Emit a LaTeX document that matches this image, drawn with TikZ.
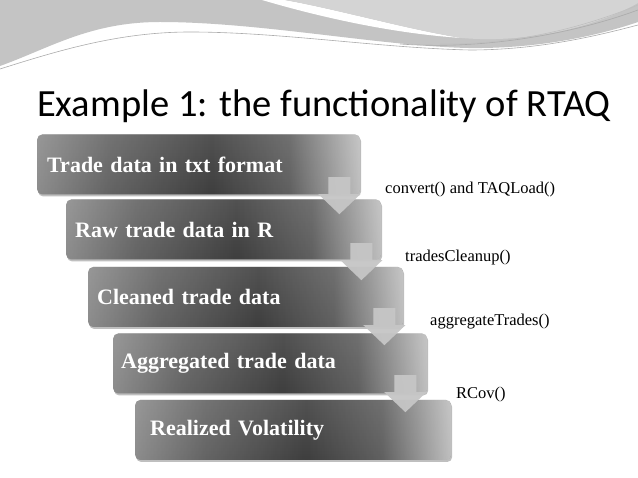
\documentclass[tikz,border=0pt]{standalone}
\usepackage{fontspec}
\setmainfont{Liberation Serif}
\newfontfamily\titlefont{Carlito}
\usetikzlibrary{shadows,fadings,calc}

\pgfdeclarehorizontalshading{boxshade}{100bp}{color(0bp)=(black!58); color(25bp)=(black!58); color(36bp)=(black!78); color(52bp)=(black!97); color(64bp)=(black!80); color(75bp)=(black!32); color(100bp)=(black!32)}
\tikzfading[name=edgefade, top color=transparent!70, middle color=transparent!100, bottom color=transparent!78]

\definecolor{swoopdark}{HTML}{C4C4C4}
\definecolor{swooplight}{HTML}{D4D4D4}
\definecolor{arrowgrey}{HTML}{C6C6C6}

\tikzset{
  stage/.style={rounded corners=5pt, shade, shading=boxshade, minimum height=60pt,
    inner ysep=0pt, align=left, text=white,
    font=\bfseries\fontsize{22}{26}\selectfont,
    drop shadow={shadow xshift=1pt, shadow yshift=-2pt, opacity=0.25, fill=black},
    path picture={\fill[white, path fading=edgefade] (path picture bounding box.south west) rectangle (path picture bounding box.north east);}},
  flowarrow/.style={fill=arrowgrey, opacity=0.95},
  lbl/.style={font=\fontsize{16.5}{19}\selectfont, text=black, inner sep=0pt},
  strand/.style={draw=black!33, line width=0.6pt},
}

\begin{document}
\begin{tikzpicture}[x=1pt,y=-1pt]
\useasboundingbox (0,0) rectangle (638,478);
\fill[white] (0,0) rectangle (638,478);

% top swoosh
\fill[swoopdark] (0,0) -- (638,0) -- (638,22) .. controls (600,35) and (540,49) .. (468,48)
  .. controls (380,46) and (260,22) .. (160,22) .. controls (90,22) and (50,48) .. (0,66) -- cycle;
\fill[white] (262,0) -- (285,0) .. controls (340,10) and (410,30) .. (462,38)
  .. controls (400,34) and (330,20) .. (262,0) -- cycle;
\fill[swooplight] (285,0) .. controls (340,10) and (410,30) .. (462,38)
  .. controls (530,44) and (600,25) .. (638,3) -- (638,0) -- cycle;
\draw[strand] (0,69) .. controls (60,50) and (120,32) .. (190,32) .. controls (280,32) and (380,48) .. (470,50)
  .. controls (540,50) and (600,35) .. (638,25);
\draw[strand] (400,44) .. controls (480,50) and (570,35) .. (638,10);
\draw[strand, draw=black!25] (440,44) .. controls (520,45) and (590,25) .. (638,5);

% title
\node[anchor=base west, inner sep=0pt, font=\titlefont\fontsize{38.5}{44}\selectfont] (title) at (37,117) {Example 1: the functionality of RTAQ};

% stages
\node[stage, anchor=west, inner xsep=10pt, text width=303pt] (b1) at (37,164.5) {Trade data in txt format};
\node[stage, anchor=west, inner xsep=9pt, text width=297pt] (b2) at (66,229.5) {Raw trade data in R};
\node[stage, anchor=west, inner xsep=9pt, text width=297pt] (b3) at (88,297) {Cleaned trade data};
\node[stage, anchor=west, inner xsep=8pt, text width=298pt] (b4) at (113,363.5) {Aggregated trade data};
\node[stage, anchor=west, inner xsep=15pt, text width=286pt] (b5) at (135,430) {Realized Volatility};

% arrows
\coordinate (a1) at ($(b1.south east)+(-21,-17.5)$);
\coordinate (a2) at ($(b2.south east)+(-20,-16.5)$);
\coordinate (a3) at ($(b3.south east)+(-19,-19)$);
\coordinate (a4) at ($(b4.south east)+(-22,-18.5)$);
\foreach \a in {a1,a2,a3,a4}{
  \fill[flowarrow] (\a) ++(-11,0) -- ++(22,0) -- ++(0,17) -- ++(10,0) -- ++(-21,20) -- ++(-21,-20) -- ++(10,0) -- cycle;
}

% labels
\node[lbl, anchor=west] (l1) at (385,190) {convert() and TAQLoad()};
\node[lbl, anchor=west] (l2) at (405,258) {tradesCleanup()};
\node[lbl, anchor=west] (l3) at (430,322) {aggregateTrades()};
\node[lbl, anchor=west] (l4) at (456,395) {RCov()};
\end{tikzpicture}
\end{document}
